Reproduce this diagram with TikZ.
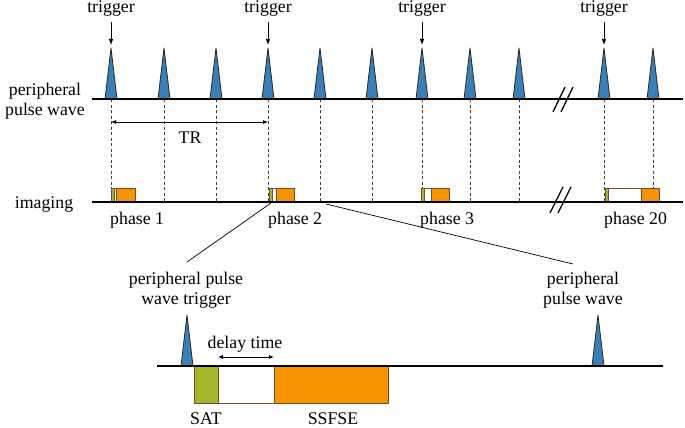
\documentclass[tikz,border=0pt]{standalone}
\usepackage{fontspec}
\setmainfont{Liberation Serif}
\usetikzlibrary{arrows.meta}

\definecolor{pulseblue}{HTML}{3B80B4}
\definecolor{satgreen}{HTML}{A4B62C}
\definecolor{ssfseorange}{HTML}{F59300}
\definecolor{boxbrown}{HTML}{7A4A2A}

\begin{document}
\begin{tikzpicture}[x=1pt,y=-1pt,
        pulse/.style = {draw=black!85, fill=pulseblue, line width=0.8pt, line join=round},
        axis/.style = {line width=1.5pt},
        guide/.style = {line width=0.7pt, black!75, dash pattern=on 3pt off 2.5pt},
        lbl/.style = {font=\fontsize{17.8}{19.5}\selectfont, inner sep=0pt, align=center},
        sat/.style = {draw=boxbrown, fill=satgreen, line width=0.8pt},
        gap/.style = {draw=boxbrown, fill=white, line width=0.8pt},
        ssfse/.style = {draw=boxbrown, fill=ssfseorange, line width=0.8pt},
        brk/.style = {line width=1.3pt},
        arr/.style = {line width=0.8pt, -{Latex[length=6pt,width=4.5pt]}},
        dbl/.style = {line width=0.8pt, {Latex[length=5pt,width=4pt]}-{Latex[length=5pt,width=4pt]}}]
        \useasboundingbox (0,0) rectangle (685,428);
        % pulse wave row
        \foreach \x in {111,164,216,268,320,372,422,470,519,604,653} {
            \draw[guide] (\x,99) -- (\x,202);
            \draw[pulse] (\x-6,99) -- (\x,48) -- (\x+6,99) -- cycle;
        }
        \draw[axis] (92,99) -- (683,99);
        \draw[brk] (553,112) -- (565,87);
        \draw[brk] (561,112) -- (573,87);
        \node[lbl] (pw) at (45,101) {peripheral\\pulse wave};
        % triggers
        \foreach \x/\n in {111/1,268/2,422/3,604/4} {
            \node[lbl, anchor=base] (t\n) at (\x,13) {trigger};
            \coordinate (p\n) at (\x,45);
            \draw[arr] (\x,22) -- (p\n);
        }
        % TR
        \coordinate (tra) at (111,122);
        \coordinate (trb) at (268,122);
        \draw[dbl] (tra) -- (trb);
        \node[lbl, anchor=base] (tr) at (190,143) {TR};
        % imaging row
        \foreach \s/\d/\n in {111/2.5/1, 269/4/2, 421/7/3, 605/33/20} {
            \draw[sat] (\s,188) rectangle (\s+3,202);
            \draw[gap] (\s+3,188) rectangle (\s+3+\d,202);
            \draw[ssfse] (\s+3+\d,188) rectangle (\s+21.5+\d,202);
            \node[lbl, anchor=base west] (ph\n) at (\s-1,224) {phase \n};
        }
        \draw[axis] (92,202) -- (683,202);
        \draw[brk] (550,213) -- (563,187);
        \draw[brk] (558,213) -- (571,187);
        \node[lbl, anchor=base] (img) at (44,208) {imaging};
        % zoom lines
        \coordinate (za) at (271,203);
        \coordinate (zb) at (326,204);
        \node[lbl] (trg) at (186,290) {peripheral pulse\\wave trigger};
        \node[lbl] (ppw) at (583,290) {peripheral\\pulse wave};
        \coordinate (ea) at (187,262);
        \coordinate (eb) at (573,264);
        \draw[line width=0.7pt] (za) -- (ea);
        \draw[line width=0.7pt] (zb) -- (eb);
        % detail
        \draw[pulse] (181,366) -- (187,315) -- (193,366) -- cycle;
        \draw[pulse] (592,366) -- (598,315) -- (604,366) -- cycle;
        \draw[sat] (194,366) rectangle (218,403);
        \draw[gap] (218,366) rectangle (274,403);
        \draw[ssfse] (274,366) rectangle (388,403);
        \draw[line width=1.3pt] (157,366) -- (663,366);
        \coordinate (da) at (218,357);
        \coordinate (db) at (274,357);
        \draw[dbl] (da) -- (db);
        \node[lbl, anchor=base] (dt) at (245,348) {delay time};
        \node[lbl, anchor=base] (sl) at (206,424) {SAT};
        \node[lbl, anchor=base] (fl) at (333,424) {SSFSE};
\end{tikzpicture}
\end{document}
